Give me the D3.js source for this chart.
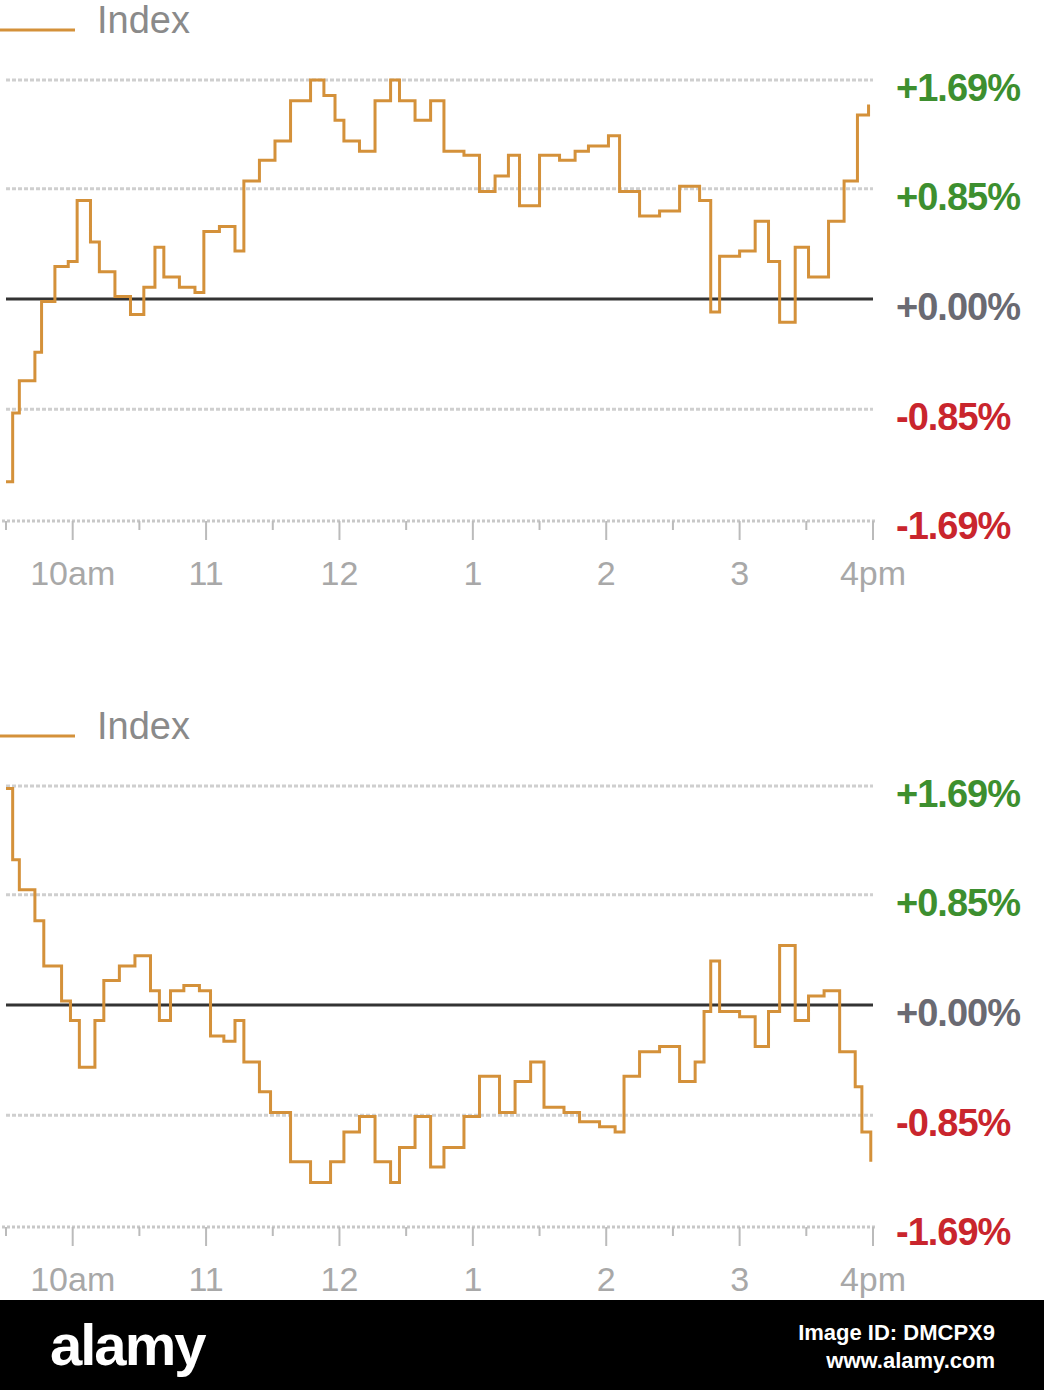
<!DOCTYPE html>
<html><head><meta charset="utf-8">
<script src="https://cdn.jsdelivr.net/npm/d3@7"></script>
<style>body{margin:0;background:#fff}svg{display:block}</style>
</head><body><div id="chart"></div>
<script>
var width = 1044, height = 1390;

// minutes after 9:30, percent change
var topMinutes = [0,3,6,13,16,22,28,32,38,42,49,56,62,67,71,78,85,89,96,103,107,114,121,128,137,143,148,152,159,166,173,177,184,191,197,206,213,220,226,231,240,249,256,262,271,276,285,294,303,312,317,321,330,337,343,348,355,361,370,377,383,388];
var topValues = [-1.41,-0.88,-0.63,-0.41,-0.02,0.25,0.29,0.76,0.44,0.21,0.02,-0.12,0.09,0.40,0.17,0.09,0.05,0.52,0.56,0.37,0.91,1.07,1.22,1.53,1.69,1.57,1.38,1.22,1.14,1.53,1.69,1.53,1.38,1.53,1.14,1.11,0.83,0.95,1.11,0.72,1.11,1.07,1.14,1.18,1.26,0.83,0.64,0.68,0.87,0.76,-0.10,0.33,0.37,0.60,0.29,-0.18,0.40,0.17,0.60,0.91,1.42,1.50];
var bottomMinutes = [0,3,6,13,17,25,29,33,40,44,51,58,65,69,74,80,87,92,98,103,107,114,119,128,137,146,152,159,166,173,177,184,191,197,206,213,222,229,236,242,251,258,267,274,278,285,294,303,310,314,317,321,330,337,343,348,355,361,368,375,382,385,389];
var bottomValues = [1.67,1.12,0.89,0.65,0.30,0.03,-0.12,-0.48,-0.12,0.19,0.30,0.38,0.11,-0.12,0.11,0.15,0.11,-0.24,-0.28,-0.12,-0.44,-0.67,-0.83,-1.21,-1.37,-1.21,-0.98,-0.86,-1.21,-1.37,-1.10,-0.86,-1.25,-1.10,-0.86,-0.55,-0.83,-0.59,-0.44,-0.79,-0.83,-0.90,-0.94,-0.98,-0.55,-0.36,-0.32,-0.59,-0.44,-0.05,0.34,-0.05,-0.09,-0.32,-0.05,0.46,-0.12,0.07,0.11,-0.36,-0.63,-0.98,-1.21];

var yTicks = [1.69, 0.85, 0, -0.85, -1.69];
var yTickLabels = ["+1.69%","+0.85%","+0.00%","-0.85%","-1.69%"];
var xTickMinutes = [30,90,150,210,270,330,390];
var xTickLabels = ["10am","11","12","1","2","3","4pm"];

var svg = d3.select("#chart").append("svg").attr("width", width).attr("height", height)
  .style("font-family", "Liberation Sans, Arial, sans-serif");

var x = d3.scaleLinear().domain([0, 390]).range([6, 873]);
var y = d3.scaleLinear().domain([-1.69, 1.69]).range([518, 80]);

function labelColor(v){ return v > 0 ? "#3d8f2f" : (v < 0 ? "#c9252d" : "#6a6a72"); }

function panel(offset, mins, vals){
  var g = svg.append("g").attr("transform", "translate(0," + offset + ")");
  g.append("line").attr("x1",0).attr("x2",75).attr("y1",30).attr("y2",30)
    .attr("stroke","#d4913a").attr("stroke-width",3);
  g.append("text").attr("x",97).attr("y",33).attr("font-size",38).attr("fill","#8a8a8a").text("Index");

  yTicks.forEach(function(v, i){
    if (v !== -1.69) {
      g.append("line").attr("x1",6).attr("x2",873).attr("y1",y(v)).attr("y2",y(v))
        .attr("stroke", v === 0 ? "#333" : "#cfcfcf").attr("stroke-width", 3)
        .attr("stroke-dasharray", v === 0 ? null : "4,2");
    }
    g.append("text").attr("x",896).attr("y",y(v)+21).attr("font-size",38).attr("font-weight","bold")
      .attr("fill", labelColor(v)).attr("letter-spacing",-1).text(yTickLabels[i]);
  });

  var data = d3.zip(mins, vals);
  g.append("path").datum(data)
    .attr("fill","none").attr("stroke","#d4913a").attr("stroke-width",3)
    .attr("d", d3.line().x(function(d){return x(d[0]);}).y(function(d){return y(d[1]);}).curve(d3.curveStepAfter));

  // axis
  var ax = g.append("g");
  ax.append("line").attr("x1",2).attr("x2",875).attr("y1",521).attr("y2",521)
    .attr("stroke","#c8c8c8").attr("stroke-width",3).attr("stroke-dasharray","3,2");
  d3.range(0, 391, 30).forEach(function(m){
    var major = (m - 30) % 60 === 0;
    ax.append("line").attr("x1",x(m)).attr("x2",x(m)).attr("y1",521).attr("y2", major ? 540 : 530)
      .attr("stroke","#bbb").attr("stroke-width",2);
  });
  xTickMinutes.forEach(function(m, i){
    ax.append("text").attr("x",x(m)).attr("y",585).attr("text-anchor","middle")
      .attr("font-size",34).attr("fill","#a8a8a8").text(xTickLabels[i]);
  });
}

panel(0, topMinutes, topValues);
panel(706, bottomMinutes, bottomValues);

svg.append("rect").attr("x",0).attr("y",1300).attr("width",width).attr("height",90).attr("fill","#000");
svg.append("text").attr("x",50).attr("y",1365).attr("font-size",58).attr("font-weight","bold")
  .attr("fill","#fff").attr("letter-spacing",-2).text("alamy");
svg.append("text").attr("x",995).attr("y",1340).attr("text-anchor","end").attr("font-size",22)
  .attr("font-weight","bold").attr("fill","#fff").text("Image ID: DMCPX9");
svg.append("text").attr("x",995).attr("y",1368).attr("text-anchor","end").attr("font-size",22)
  .attr("font-weight","bold").attr("fill","#fff").text("www.alamy.com");
</script></body></html>
